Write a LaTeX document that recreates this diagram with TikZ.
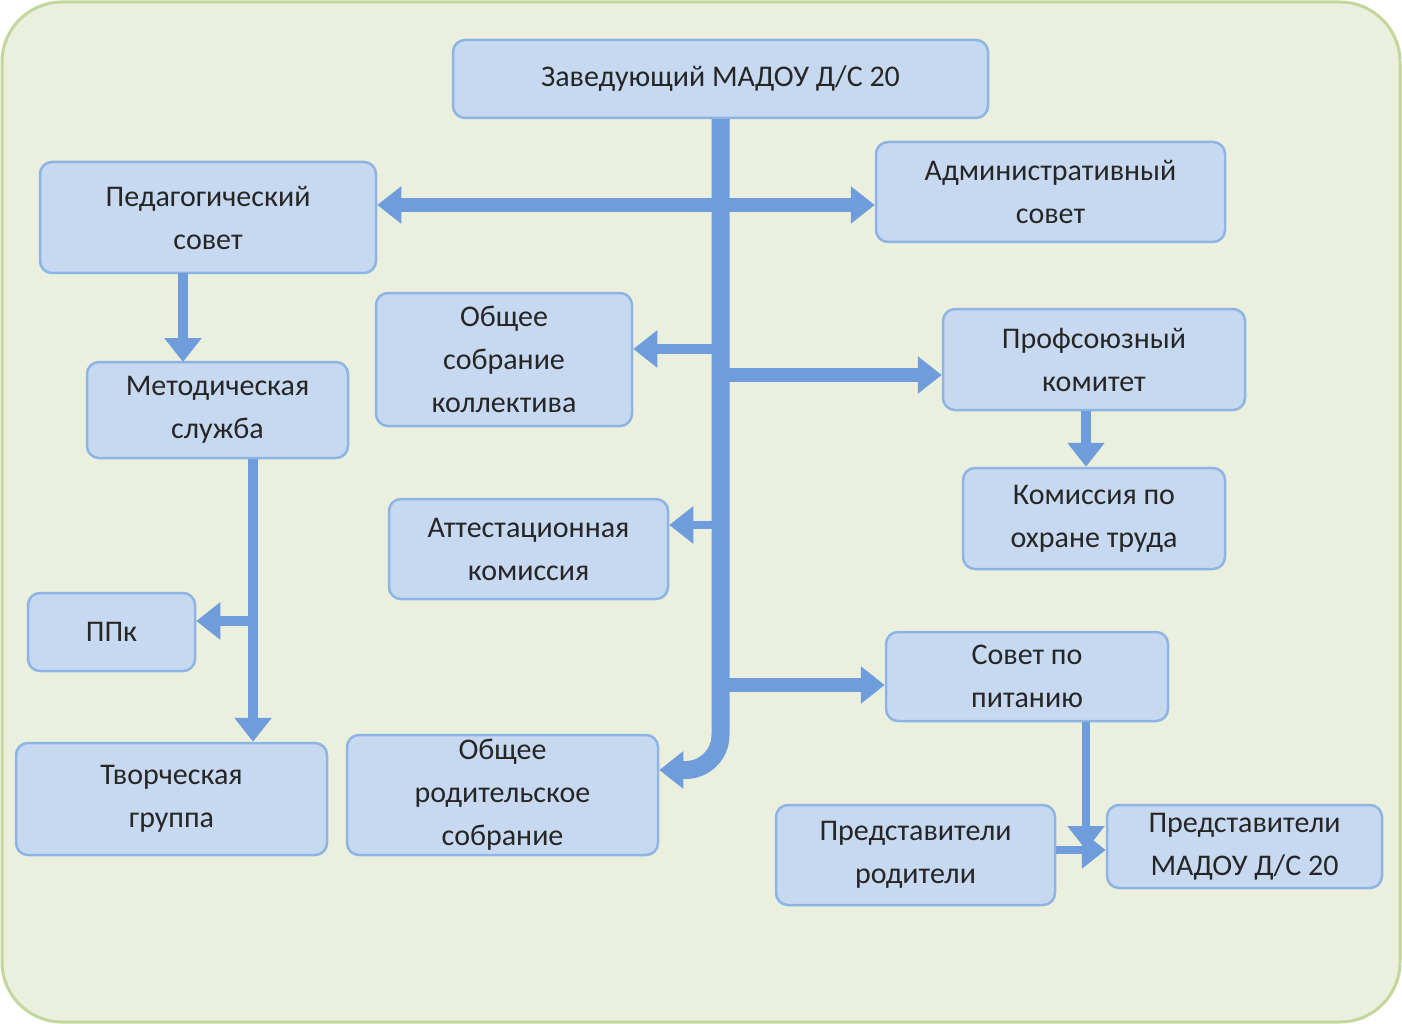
\documentclass[tikz,border=0pt]{standalone}
\usepackage{fontspec}
\setmainfont{Carlito}
\usetikzlibrary{arrows.meta}
\definecolor{bgc}{HTML}{EBF0DE}
\definecolor{bgb}{HTML}{C3D69B}
\definecolor{bx}{HTML}{C6D9F1}
\definecolor{bxb}{HTML}{8EB4E3}
\definecolor{ar}{HTML}{6F9CDB}
\tikzset{
 bx/.style={draw=bxb,fill=bx,line width=2.5pt,rounded corners=12pt,align=center,inner sep=0pt,
  font=\fontsize{30}{43}\selectfont,text=black!85},
 arw/.style={draw=ar,line width=#1,-{Triangle[length=24pt,width=36pt]}},
 arw/.default=14pt,
}
\newcommand{\bxn}[6]{\node[bx,minimum width=#4-#2 pt,minimum height=#5-#3 pt] (#1) at ({(#2+#4)/2},{(#3+#5)/2}) {#6};}
\begin{document}
\begin{tikzpicture}[x=1pt,y=-1pt]
\useasboundingbox (0,0) rectangle (1402,1024);
\draw[fill=bgc,draw=bgb,line width=3pt,rounded corners=60pt] (2,2) rectangle (1400,1022);
\bxn{top}{453}{40}{988}{118}{Заведующий МАДОУ Д/С 20}
\bxn{ped}{40}{162}{376}{273}{Педагогический\\совет}
\bxn{adm}{876}{142}{1225}{242}{Административный\\совет}
\bxn{obsh}{376}{293}{632}{426}{Общее\\собрание\\коллектива}
\bxn{prof}{943}{309}{1245}{410}{Профсоюзный\\комитет}
\bxn{met}{87}{362}{348}{458}{Методическая\\служба}
\bxn{kom}{963}{468}{1225}{569}{Комиссия по\\охране труда}
\bxn{att}{389}{499}{668}{599}{Аттестационная\\комиссия}
\bxn{ppk}{28}{593}{195}{671}{ППк}
\bxn{pit}{886}{632}{1168}{721}{Совет по\\питанию}
\bxn{tvor}{16}{743}{327}{855}{Творческая\\группа}
\bxn{rod}{347}{735}{658}{855}{Общее\\родительское\\собрание}
\bxn{prr}{776}{805}{1055}{905}{Представители\\родители}
\bxn{prm}{1107}{805}{1382}{888}{Представители\\МАДОУ Д/С 20}
% trunk
\coordinate (t1) at (727,205);
\coordinate (t2) at (727,349);
\coordinate (t3) at (727,375);
\coordinate (t4) at (727,525);
\coordinate (t5) at (727,685);
\draw[arw] (t1) -- (ped.east |- t1);
\draw[arw] (t1) -- (adm.west |- t1);
\draw[arw=10pt] (t2) -- (obsh.east |- t2);
\draw[arw] (t3) -- (prof.west |- t3);
\draw[arw=8pt] (t4) -- (att.east |- t4);
\draw[arw] (t5) -- (pit.west |- t5);
\draw[arw=18pt,rounded corners=35pt] (top.south) |- (rod.east |- 0,770);
\coordinate (m1) at (253,621);
\draw[arw=10pt] (183,273) -- (183,362);
\draw[arw=10pt] (met.south -| 253,0) -- (tvor.north -| 253,0);
\draw[arw=10pt] (m1) -- (ppk.east |- m1);
\draw[arw=10pt] (prof.south -| 1086,0) -- (kom.north -| 1086,0);
\coordinate (j) at (1086,850);
\draw[arw=8pt] (pit.south -| j) -- (j);
\draw[draw=ar,line width=8pt] (prr.east |- j) -- (j);
\draw[arw=8pt] (j) -- (prm.west |- j);
\end{tikzpicture}
\end{document}
